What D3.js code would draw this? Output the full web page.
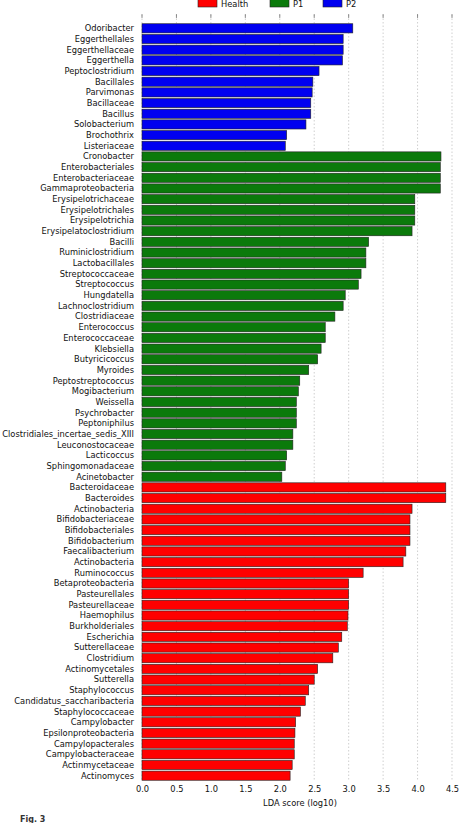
<!DOCTYPE html>
<head>
<meta charset="utf-8">
<style type="text/css">
    body { margin: 0; background: #fff; }
    text { font-family: "DejaVu Sans", sans-serif; }
</style>
</head>
<body>
<svg id="chart" width="474" height="823"></svg>
<script src="https://cdnjs.cloudflare.com/ajax/libs/d3/7.8.5/d3.min.js"></script>
<script>
    const groups = ['Health', 'P1', 'P2'];
    const groupColors = ['#ff0000', '#0b7a0b', '#0000f0'];

    const p2Names = ['Odoribacter','Eggerthellales','Eggerthellaceae','Eggerthella','Peptoclostridium','Bacillales','Parvimonas','Bacillaceae','Bacillus','Solobacterium','Brochothrix','Listeriaceae'];
    const p2Values = [3.06,2.92,2.92,2.91,2.57,2.48,2.47,2.45,2.45,2.38,2.10,2.08];

    const p1Names = ['Cronobacter','Enterobacteriales','Enterobacteriaceae','Gammaproteobacteria','Erysipelotrichaceae','Erysipelotrichales','Erysipelotrichia','Erysipelatoclostridium','Bacilli','Ruminiclostridium','Lactobacillales','Streptococcaceae','Streptococcus','Hungdatella','Lachnoclostridium','Clostridiaceae','Enterococcus','Enterococcaceae','Klebsiella','Butyricicoccus','Myroides','Peptostreptococcus','Mogibacterium','Weissella','Psychrobacter','Peptoniphilus','Clostridiales_incertae_sedis_XIII','Leuconostocaceae','Lacticoccus','Sphingomonadaceae','Acinetobacter'];
    const p1Values = [4.34,4.33,4.33,4.33,3.96,3.96,3.96,3.92,3.29,3.25,3.25,3.18,3.14,2.95,2.92,2.80,2.66,2.66,2.60,2.55,2.42,2.29,2.27,2.24,2.24,2.24,2.19,2.19,2.10,2.08,2.03];

    const healthNames = ['Bacteroidaceae','Bacteroides','Actinobacteria','Bifidobacteriaceae','Bifidobacteriales','Bifidobacterium','Faecalibacterium','Actinobacteria','Ruminococcus','Betaproteobacteria','Pasteurellales','Pasteurellaceae','Haemophilus','Burkholderiales','Escherichia','Sutterellaceae','Clostridium','Actinomycetales','Sutterella','Staphylococcus','Candidatus_saccharibacteria','Staphylococcaceae','Campylobacter','Epsilonproteobacteria','Campylopacterales','Campylobacteraceae','Actinmycetaceae','Actinomyces'];
    const healthValues = [4.41,4.41,3.92,3.89,3.89,3.89,3.83,3.79,3.21,3.00,3.00,3.00,2.99,2.98,2.90,2.85,2.77,2.55,2.50,2.42,2.37,2.30,2.23,2.22,2.21,2.21,2.18,2.15];

    const ticks = [0,0.5,1,1.5,2,2.5,3,3.5,4,4.5];

    const rows = [];
    p2Names.forEach((n, i) => rows.push({name: n, value: p2Values[i], group: 'P2'}));
    p1Names.forEach((n, i) => rows.push({name: n, value: p1Values[i], group: 'P1'}));
    healthNames.forEach((n, i) => rows.push({name: n, value: healthValues[i], group: 'Health'}));

    const svg = d3.select('#chart');
    const mLeft = 142, mRight = 452, mTop = 23, mBottom = 781;
    const x = d3.scaleLinear().domain([0, 4.5]).range([mLeft, mRight]);
    const y = d3.scaleBand().domain(d3.range(rows.length)).range([mTop, mBottom]).paddingInner(0.14).paddingOuter(0.07);
    const color = d3.scaleOrdinal().domain(groups).range(groupColors);

    // grid
    svg.append('g').selectAll('line').data(ticks).join('line')
        .attr('x1', d => x(d)).attr('x2', d => x(d))
        .attr('y1', 15).attr('y2', mBottom)
        .attr('stroke', '#bbb').attr('stroke-width', 0.7).attr('stroke-dasharray', '1.5,2');
    // top ticks
    svg.append('g').selectAll('line').data(ticks).join('line')
        .attr('x1', d => x(d)).attr('x2', d => x(d))
        .attr('y1', 14).attr('y2', 18).attr('stroke', '#666').attr('stroke-width', 0.7);

    svg.append('g').selectAll('rect').data(rows).join('rect')
        .attr('x', x(0)).attr('y', (d, i) => y(i))
        .attr('width', d => x(d.value) - x(0)).attr('height', y.bandwidth())
        .attr('fill', d => color(d.group)).attr('stroke', '#222').attr('stroke-width', 0.6);

    svg.append('g').selectAll('text').data(rows).join('text')
        .attr('x', 134).attr('y', (d, i) => y(i) + y.bandwidth() / 2)
        .attr('dy', '0.35em').attr('text-anchor', 'end')
        .attr('font-size', 8.3).attr('fill', '#111').text(d => d.name);

    const axis = d3.axisBottom(x).tickValues(ticks).tickFormat(d3.format('.1f')).tickSize(0).tickPadding(5);
    const ag = svg.append('g').attr('transform', `translate(0,${mBottom})`).call(axis);
    ag.select('.domain').remove();
    ag.selectAll('text').attr('font-size', 8.3).attr('fill', '#111').attr('font-family', '"DejaVu Sans", sans-serif');

    svg.append('text').attr('x', (mLeft + mRight) / 2 + 3).attr('y', 806).attr('text-anchor', 'middle')
        .attr('font-size', 8.3).attr('fill', '#111').text('LDA score (log10)');

    // legend
    const legendX = [198, 270, 323];
    const lg = svg.append('g').selectAll('g').data(groups).join('g')
        .attr('transform', (d, i) => `translate(${legendX[i]},0)`);
    lg.append('rect').attr('x', 0).attr('y', -1).attr('width', 19).attr('height', 8)
        .attr('fill', d => color(d)).attr('stroke', '#222').attr('stroke-width', 0.6);
    lg.append('text').attr('x', 23).attr('y', 4).attr('dy', '0.35em')
        .attr('font-size', 8.3).attr('fill', '#111').text(d => d);

    svg.append('text').attr('x', 20).attr('y', 822).attr('font-size', 8).attr('font-weight', 'bold')
        .attr('fill', '#333').text('Fig. 3');
</script>
</body>
</html>
